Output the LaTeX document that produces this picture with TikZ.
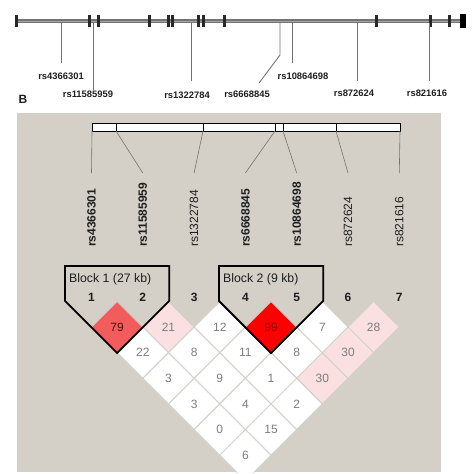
\documentclass[tikz,border=0pt]{standalone}
\usepackage{fontspec}
\setmainfont{Liberation Sans}
\usepackage{tikz}
\usetikzlibrary{positioning,calc,shapes.geometric}
\definecolor{PanelGray}{RGB}{212,208,200}
\definecolor{GeneGray}{RGB}{115,115,115}
\definecolor{GeneLight}{RGB}{165,165,165}
\definecolor{ExonDark}{RGB}{40,40,40}
\definecolor{LdRed}{RGB}{242,92,92}
\definecolor{LdFull}{RGB}{255,0,0}
\definecolor{LdPink}{RGB}{250,224,224}
\definecolor{LdDark}{RGB}{80,15,15}
\definecolor{LdDeep}{RGB}{140,0,0}
\definecolor{GridGray}{RGB}{210,208,204}
\definecolor{CellText}{RGB}{125,125,125}
\definecolor{InkGray}{RGB}{30,30,30}
\tikzset{
	exon/.style={draw=ExonDark,line width=3pt},
	snpline/.style={draw=GeneGray,line width=0.9pt},
	barline/.style={draw=GeneGray,line width=0.6pt},
	snpname/.style={text=InkGray,font=\bfseries\fontsize{9.4}{11}\selectfont,inner sep=0pt},
	ldname/.style={rotate=90,anchor=west,inner sep=0pt,text=InkGray,font=\fontsize{12}{14}\selectfont},
	cell/.style={diamond,draw=GridGray,line width=0.8pt,minimum width=51.3pt,
		minimum height=51.3pt,inner sep=0pt,font=\fontsize{12}{14}\selectfont},
	blockline/.style={draw=black,line width=1.8pt,line join=miter},
	colnum/.style={text=InkGray,font=\bfseries\fontsize{12}{14}\selectfont,inner sep=0pt},
	blockname/.style={anchor=west,inner sep=0pt,text=InkGray,font=\fontsize{12.3}{14}\selectfont},
}

\begin{document}
\begin{tikzpicture}[x=1pt,y=-1pt]
	\useasboundingbox (0,0) rectangle (474,474);
	% gene structure
	\coordinate (gL) at (16,21);
	\coordinate (gR) at (463,21);
	\draw[GeneGray,line width=3.2pt] (gL) -- (gR);
	\draw[GeneLight,line width=1pt] (gL) -- (gR);
	\foreach \x in {16,89,98,149,168,172,198,203,224,376,430,449}
		\draw[exon] (\x,15) -- (\x,27);
	\fill[black] (460,14) rectangle (466,28);
	% snp positions on the gene
	\coordinate (g1) at (61,22.6);
	\coordinate (g2) at (93,22.6);
	\coordinate (g3) at (191,22.6);
	\coordinate (g4) at (280,22.6);
	\coordinate (g5) at (292,22.6);
	\coordinate (g6) at (357,22.6);
	\coordinate (g7) at (429,22.6);
	\coordinate (e1) at (61,63);
	\coordinate (e2) at (93,90);
	\coordinate (e3) at (191,81);
	\coordinate (k4) at (280,55);
	\coordinate (e4) at (259,83);
	\coordinate (e5) at (292,63);
	\coordinate (e6) at (357,81);
	\coordinate (e7) at (429,81);
	\draw[snpline] (g1) -- (e1);
	\draw[snpline] (g2) -- (e2);
	\draw[snpline] (g3) -- (e3);
	\draw[snpline] (g4) -- (k4) -- (e4);
	\draw[snpline] (g5) -- (e5);
	\draw[snpline] (g6) -- (e6);
	\draw[snpline] (g7) -- (e7);
	\node[snpname] (s1) at (61,76) {rs4366301};
	\node[snpname] (s2) at (88,94) {rs11585959};
	\node[snpname] (s3) at (187,95) {rs1322784};
	\node[snpname] (s4) at (247,94) {rs6668845};
	\node[snpname] (s5) at (303,76) {rs10864698};
	\node[snpname] (s6) at (354,93) {rs872624};
	\node[snpname] (s7) at (427,93) {rs821616};
	\node[colnum] (panelB) at (23,99) {B};
	% haploview panel
	\fill[PanelGray] (17,113) rectangle (441,472);
	\draw[fill=white,line width=0.6pt] (92,123) rectangle (400,131);
	\coordinate (b1) at (92,131);
	\coordinate (b2) at (116,131);
	\coordinate (b3) at (203,131);
	\coordinate (b4) at (275,131);
	\coordinate (b5) at (283,131);
	\coordinate (b6) at (336,131);
	\coordinate (b7) at (400,131);
	\foreach \n in {1,...,7}
		\draw[line width=0.9pt] (b\n) -- ++(0,-8);
	\foreach \n [evaluate=\n as \cx using 91.5+51.3*(\n-1)] in {1,...,7}{
		\coordinate (t\n) at (\cx,173);
		\draw[barline] (b\n) -- (t\n);
		\node[colnum] (n\n) at (\cx,297) {\n};
	}
	\node[ldname,font=\bfseries\fontsize{12}{14}\selectfont] (l1) at (91.5,247) {rs4366301};
	\node[ldname,font=\bfseries\fontsize{12}{14}\selectfont] (l2) at (142.8,247) {rs11585959};
	\node[ldname] (l3) at (194.1,247) {rs1322784};
	\node[ldname,font=\bfseries\fontsize{12}{14}\selectfont] (l4) at (245.4,247) {rs6668845};
	\node[ldname,font=\bfseries\fontsize{12}{14}\selectfont] (l5) at (296.7,247) {rs10864698};
	\node[ldname] (l6) at (348,247) {rs872624};
	\node[ldname] (l7) at (399.3,247) {rs821616};
	% LD cells
	\begin{scope}
		\clip (17,113) rectangle (441,472);
		\foreach \i/\j/\v/\fc/\tc in {1/2/79/LdRed/LdDark,2/3/21/LdPink/CellText,3/4/12/white/CellText,
			4/5/99/LdFull/LdDeep,5/6/7/white/CellText,6/7/28/LdPink/CellText,
			1/3/22/white/CellText,2/4/8/white/CellText,3/5/11/white/CellText,4/6/8/white/CellText,
			5/7/30/LdPink/CellText,1/4/3/white/CellText,2/5/9/white/CellText,3/6/1/white/CellText,
			4/7/30/LdPink/CellText,1/5/3/white/CellText,2/6/4/white/CellText,3/7/2/white/CellText,
			1/6/0/white/CellText,2/7/15/white/CellText,1/7/6/white/CellText}{
			\pgfmathsetmacro{\cx}{91.5+25.65*(\i+\j-2)}
			\pgfmathsetmacro{\cy}{327+25.65*(\j-\i-1)}
			\node[cell,fill=\fc,text=\tc] (c\i\j) at (\cx,\cy) {\v};
		}
	\end{scope}
	% haplotype blocks
	\coordinate (btop) at (0,266);
	\coordinate (k1L) at ($(c12.south)!2!(c12.west)$);
	\coordinate (k1R) at ($(c12.south)!2!(c12.east)$);
	\coordinate (k2L) at ($(c45.south)!2!(c45.west)$);
	\coordinate (k2R) at ($(c45.south)!2!(c45.east)$);
	\draw[blockline] (c12.south) -- (k1L) -- (k1L |- btop) -- (k1R |- btop) -- (k1R) -- cycle;
	\draw[blockline] (c45.south) -- (k2L) -- (k2L |- btop) -- (k2R |- btop) -- (k2R) -- cycle;
	\node[blockname] (blk1) at (69,279) {Block 1 (27 kb)};
	\node[blockname] (blk2) at (223,279) {Block 2 (9 kb)};
\end{tikzpicture}
\end{document}
